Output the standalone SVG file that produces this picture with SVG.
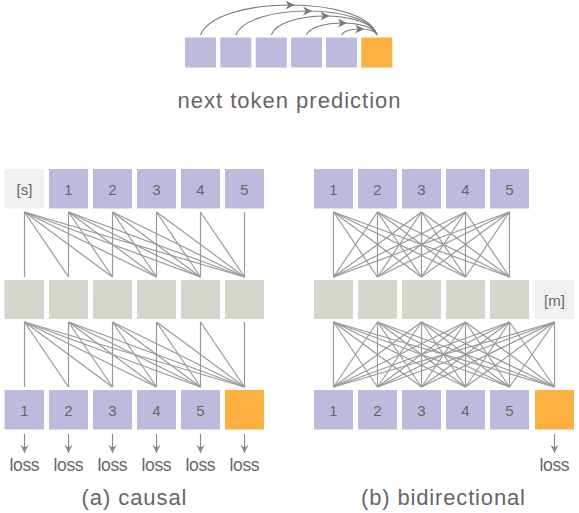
<svg xmlns="http://www.w3.org/2000/svg" width="579" height="513" viewBox="0 0 579 513">
<style>
.p{fill:#bdbbdd}
.o{fill:#fbb040}
.g{fill:#d6d6cc}
.w{fill:#f0f1ef}
.t{font-family:"Liberation Sans",Arial,sans-serif;fill:#666;text-anchor:middle}
.n{font-size:15px}
.c line{stroke:#999;stroke-width:1.2}
.arc{fill:none;stroke:#777;stroke-width:1.1;marker-mid:url(#ah)}
.la{stroke:#888;stroke-width:1.1;marker-end:url(#lh)}
</style>
<defs>
<marker id="ah" viewBox="0 0 10 10" refX="5" refY="5" markerWidth="9" markerHeight="9" markerUnits="userSpaceOnUse" orient="auto"><path d="M0,0 L10,5 L0,10 L3,5 Z" fill="#777"/></marker>
<marker id="lh" viewBox="0 0 10 10" refX="10" refY="5" markerWidth="9" markerHeight="8" markerUnits="userSpaceOnUse" orient="auto"><path d="M0,0 L10,5 L0,10 L3,5 Z" fill="#888"/></marker>
</defs>
<rect width="579" height="513" fill="#fff"/>

<g id="ntp">
<g id="ntp-arcs">
<path class="arc" d="M200.5,35 C208.45,15 249.48,5 290.06,5 C330.65,5 370.8,15 377,35"/>
<path class="arc" d="M235.8,35 C242.15,19 274.98,11 307.45,11 C339.93,11 372.05,19 377,35"/>
<path class="arc" d="M271.2,35 C275.95,22.33 300.55,16 324.89,16 C349.23,16 373.3,22.33 377,35"/>
<path class="arc" d="M306.5,35 C309.65,27 326.05,23 342.28,23 C358.5,23 374.55,27 377,35"/>
<path class="arc" d="M341.8,35 C343.4,31 351.58,29 359.66,29 C367.75,29 375.75,31 377,35"/>
</g>
<rect class="p" x="185" y="37.5" width="31" height="30"/>
<rect class="p" x="220.3" y="37.5" width="31" height="30"/>
<rect class="p" x="255.7" y="37.5" width="31" height="30"/>
<rect class="p" x="291" y="37.5" width="31" height="30"/>
<rect class="p" x="326" y="37.5" width="31" height="30"/>
<rect class="o" x="361.3" y="37.5" width="31" height="30"/>
<text class="t" x="289" y="108" font-size="22" textLength="223" lengthAdjust="spacing">next token prediction</text>
</g>

<g id="causal-connectors" class="c">
<line x1="24.5" y1="212" x2="24.5" y2="277"/><line x1="24.5" y1="212" x2="68.5" y2="277"/><line x1="24.5" y1="212" x2="112.5" y2="277"/><line x1="24.5" y1="212" x2="156.5" y2="277"/><line x1="24.5" y1="212" x2="200.5" y2="277"/><line x1="24.5" y1="212" x2="244.5" y2="277"/>
<line x1="68.5" y1="212" x2="68.5" y2="277"/><line x1="68.5" y1="212" x2="112.5" y2="277"/><line x1="68.5" y1="212" x2="156.5" y2="277"/><line x1="68.5" y1="212" x2="200.5" y2="277"/><line x1="68.5" y1="212" x2="244.5" y2="277"/>
<line x1="112.5" y1="212" x2="112.5" y2="277"/><line x1="112.5" y1="212" x2="156.5" y2="277"/><line x1="112.5" y1="212" x2="200.5" y2="277"/><line x1="112.5" y1="212" x2="244.5" y2="277"/>
<line x1="156.5" y1="212" x2="156.5" y2="277"/><line x1="156.5" y1="212" x2="200.5" y2="277"/><line x1="156.5" y1="212" x2="244.5" y2="277"/>
<line x1="200.5" y1="212" x2="200.5" y2="277"/><line x1="200.5" y1="212" x2="244.5" y2="277"/>
<line x1="244.5" y1="212" x2="244.5" y2="277"/>
<line x1="24.5" y1="322" x2="24.5" y2="387"/><line x1="24.5" y1="322" x2="68.5" y2="387"/><line x1="24.5" y1="322" x2="112.5" y2="387"/><line x1="24.5" y1="322" x2="156.5" y2="387"/><line x1="24.5" y1="322" x2="200.5" y2="387"/><line x1="24.5" y1="322" x2="244.5" y2="387"/>
<line x1="68.5" y1="322" x2="68.5" y2="387"/><line x1="68.5" y1="322" x2="112.5" y2="387"/><line x1="68.5" y1="322" x2="156.5" y2="387"/><line x1="68.5" y1="322" x2="200.5" y2="387"/><line x1="68.5" y1="322" x2="244.5" y2="387"/>
<line x1="112.5" y1="322" x2="112.5" y2="387"/><line x1="112.5" y1="322" x2="156.5" y2="387"/><line x1="112.5" y1="322" x2="200.5" y2="387"/><line x1="112.5" y1="322" x2="244.5" y2="387"/>
<line x1="156.5" y1="322" x2="156.5" y2="387"/><line x1="156.5" y1="322" x2="200.5" y2="387"/><line x1="156.5" y1="322" x2="244.5" y2="387"/>
<line x1="200.5" y1="322" x2="200.5" y2="387"/><line x1="200.5" y1="322" x2="244.5" y2="387"/>
<line x1="244.5" y1="322" x2="244.5" y2="387"/>
</g>

<g id="bidir-connectors" class="c">
<line x1="333.5" y1="212" x2="333.5" y2="277"/><line x1="333.5" y1="212" x2="377.5" y2="277"/><line x1="333.5" y1="212" x2="421.5" y2="277"/><line x1="333.5" y1="212" x2="465.5" y2="277"/><line x1="333.5" y1="212" x2="509.5" y2="277"/>
<line x1="377.5" y1="212" x2="333.5" y2="277"/><line x1="377.5" y1="212" x2="377.5" y2="277"/><line x1="377.5" y1="212" x2="421.5" y2="277"/><line x1="377.5" y1="212" x2="465.5" y2="277"/><line x1="377.5" y1="212" x2="509.5" y2="277"/>
<line x1="421.5" y1="212" x2="333.5" y2="277"/><line x1="421.5" y1="212" x2="377.5" y2="277"/><line x1="421.5" y1="212" x2="421.5" y2="277"/><line x1="421.5" y1="212" x2="465.5" y2="277"/><line x1="421.5" y1="212" x2="509.5" y2="277"/>
<line x1="465.5" y1="212" x2="333.5" y2="277"/><line x1="465.5" y1="212" x2="377.5" y2="277"/><line x1="465.5" y1="212" x2="421.5" y2="277"/><line x1="465.5" y1="212" x2="465.5" y2="277"/><line x1="465.5" y1="212" x2="509.5" y2="277"/>
<line x1="509.5" y1="212" x2="333.5" y2="277"/><line x1="509.5" y1="212" x2="377.5" y2="277"/><line x1="509.5" y1="212" x2="421.5" y2="277"/><line x1="509.5" y1="212" x2="465.5" y2="277"/><line x1="509.5" y1="212" x2="509.5" y2="277"/>
<line x1="333.5" y1="322" x2="333.5" y2="387"/><line x1="333.5" y1="322" x2="377.5" y2="387"/><line x1="333.5" y1="322" x2="421.5" y2="387"/><line x1="333.5" y1="322" x2="465.5" y2="387"/><line x1="333.5" y1="322" x2="509.5" y2="387"/><line x1="333.5" y1="322" x2="554.5" y2="387"/>
<line x1="377.5" y1="322" x2="333.5" y2="387"/><line x1="377.5" y1="322" x2="377.5" y2="387"/><line x1="377.5" y1="322" x2="421.5" y2="387"/><line x1="377.5" y1="322" x2="465.5" y2="387"/><line x1="377.5" y1="322" x2="509.5" y2="387"/><line x1="377.5" y1="322" x2="554.5" y2="387"/>
<line x1="421.5" y1="322" x2="333.5" y2="387"/><line x1="421.5" y1="322" x2="377.5" y2="387"/><line x1="421.5" y1="322" x2="421.5" y2="387"/><line x1="421.5" y1="322" x2="465.5" y2="387"/><line x1="421.5" y1="322" x2="509.5" y2="387"/><line x1="421.5" y1="322" x2="554.5" y2="387"/>
<line x1="465.5" y1="322" x2="333.5" y2="387"/><line x1="465.5" y1="322" x2="377.5" y2="387"/><line x1="465.5" y1="322" x2="421.5" y2="387"/><line x1="465.5" y1="322" x2="465.5" y2="387"/><line x1="465.5" y1="322" x2="509.5" y2="387"/><line x1="465.5" y1="322" x2="554.5" y2="387"/>
<line x1="509.5" y1="322" x2="333.5" y2="387"/><line x1="509.5" y1="322" x2="377.5" y2="387"/><line x1="509.5" y1="322" x2="421.5" y2="387"/><line x1="509.5" y1="322" x2="465.5" y2="387"/><line x1="509.5" y1="322" x2="509.5" y2="387"/><line x1="509.5" y1="322" x2="554.5" y2="387"/>
<line x1="554.5" y1="322" x2="333.5" y2="387"/><line x1="554.5" y1="322" x2="377.5" y2="387"/><line x1="554.5" y1="322" x2="421.5" y2="387"/><line x1="554.5" y1="322" x2="465.5" y2="387"/><line x1="554.5" y1="322" x2="509.5" y2="387"/><line x1="554.5" y1="322" x2="554.5" y2="387"/>
</g>

<g id="causal">
<g id="c-top-s"><rect class="w" x="4.5" y="169" width="39.5" height="39.5"/><text class="t n" x="24.5" y="194.5">[s]</text></g>
<g id="c-top-1"><rect class="p" x="49" y="169" width="39" height="39.5"/><text class="t n" x="68.5" y="194.5">1</text></g>
<g id="c-top-2"><rect class="p" x="93" y="169" width="39" height="39.5"/><text class="t n" x="112.5" y="194.5">2</text></g>
<g id="c-top-3"><rect class="p" x="137" y="169" width="39" height="39.5"/><text class="t n" x="156.5" y="194.5">3</text></g>
<g id="c-top-4"><rect class="p" x="181" y="169" width="39" height="39.5"/><text class="t n" x="200.5" y="194.5">4</text></g>
<g id="c-top-5"><rect class="p" x="225" y="169" width="39" height="39.5"/><text class="t n" x="244.5" y="194.5">5</text></g>
<g id="c-mid-0"><rect class="g" x="4.5" y="280" width="39.5" height="39"/></g>
<g id="c-mid-1"><rect class="g" x="49" y="280" width="39" height="39"/></g>
<g id="c-mid-2"><rect class="g" x="93" y="280" width="39" height="39"/></g>
<g id="c-mid-3"><rect class="g" x="137" y="280" width="39" height="39"/></g>
<g id="c-mid-4"><rect class="g" x="181" y="280" width="39" height="39"/></g>
<g id="c-mid-5"><rect class="g" x="225" y="280" width="39" height="39"/></g>
<g id="c-bot-1"><rect class="p" x="4.5" y="390" width="39.5" height="39.5"/><text class="t n" x="24.5" y="415.5">1</text><line class="la" x1="24.5" y1="434" x2="24.5" y2="453"/><text class="t" x="24.5" y="471" font-size="17.5" textLength="30" lengthAdjust="spacing">loss</text></g>
<g id="c-bot-2"><rect class="p" x="49" y="390" width="39" height="39.5"/><text class="t n" x="68.5" y="415.5">2</text><line class="la" x1="68.5" y1="434" x2="68.5" y2="453"/><text class="t" x="68.5" y="471" font-size="17.5" textLength="30" lengthAdjust="spacing">loss</text></g>
<g id="c-bot-3"><rect class="p" x="93" y="390" width="39" height="39.5"/><text class="t n" x="112.5" y="415.5">3</text><line class="la" x1="112.5" y1="434" x2="112.5" y2="453"/><text class="t" x="112.5" y="471" font-size="17.5" textLength="30" lengthAdjust="spacing">loss</text></g>
<g id="c-bot-4"><rect class="p" x="137" y="390" width="39" height="39.5"/><text class="t n" x="156.5" y="415.5">4</text><line class="la" x1="156.5" y1="434" x2="156.5" y2="453"/><text class="t" x="156.5" y="471" font-size="17.5" textLength="30" lengthAdjust="spacing">loss</text></g>
<g id="c-bot-5"><rect class="p" x="181" y="390" width="39" height="39.5"/><text class="t n" x="200.5" y="415.5">5</text><line class="la" x1="200.5" y1="434" x2="200.5" y2="453"/><text class="t" x="200.5" y="471" font-size="17.5" textLength="30" lengthAdjust="spacing">loss</text></g>
<g id="c-bot-6"><rect class="o" x="225" y="390" width="39" height="39.5"/><line class="la" x1="244.5" y1="434" x2="244.5" y2="453"/><text class="t" x="244.5" y="471" font-size="17.5" textLength="30" lengthAdjust="spacing">loss</text></g>
<text class="t" x="134" y="504.5" font-size="22" textLength="105" lengthAdjust="spacing">(a) causal</text>
</g>

<g id="bidirectional">
<g id="b-top-1"><rect class="p" x="314" y="169" width="39" height="39.5"/><text class="t n" x="333.5" y="194.5">1</text></g>
<g id="b-top-2"><rect class="p" x="358" y="169" width="39" height="39.5"/><text class="t n" x="377.5" y="194.5">2</text></g>
<g id="b-top-3"><rect class="p" x="402" y="169" width="39" height="39.5"/><text class="t n" x="421.5" y="194.5">3</text></g>
<g id="b-top-4"><rect class="p" x="446" y="169" width="39" height="39.5"/><text class="t n" x="465.5" y="194.5">4</text></g>
<g id="b-top-5"><rect class="p" x="490" y="169" width="39" height="39.5"/><text class="t n" x="509.5" y="194.5">5</text></g>
<g id="b-mid-1"><rect class="g" x="314" y="280" width="39" height="39"/></g>
<g id="b-mid-2"><rect class="g" x="358" y="280" width="39" height="39"/></g>
<g id="b-mid-3"><rect class="g" x="402" y="280" width="39" height="39"/></g>
<g id="b-mid-4"><rect class="g" x="446" y="280" width="39" height="39"/></g>
<g id="b-mid-5"><rect class="g" x="490" y="280" width="39" height="39"/></g>
<g id="b-mid-m"><rect class="w" x="535" y="280" width="39" height="39"/><text class="t n" x="554.5" y="305.5">[m]</text></g>
<g id="b-bot-1"><rect class="p" x="314" y="390" width="39" height="39.5"/><text class="t n" x="333.5" y="415.5">1</text></g>
<g id="b-bot-2"><rect class="p" x="358" y="390" width="39" height="39.5"/><text class="t n" x="377.5" y="415.5">2</text></g>
<g id="b-bot-3"><rect class="p" x="402" y="390" width="39" height="39.5"/><text class="t n" x="421.5" y="415.5">3</text></g>
<g id="b-bot-4"><rect class="p" x="446" y="390" width="39" height="39.5"/><text class="t n" x="465.5" y="415.5">4</text></g>
<g id="b-bot-5"><rect class="p" x="490" y="390" width="39" height="39.5"/><text class="t n" x="509.5" y="415.5">5</text></g>
<g id="b-bot-6"><rect class="o" x="535" y="390" width="39" height="39.5"/><line class="la" x1="554.5" y1="434" x2="554.5" y2="453"/><text class="t" x="554.5" y="471" font-size="17.5" textLength="30" lengthAdjust="spacing">loss</text></g>
<text class="t" x="443" y="504.5" font-size="22" textLength="164" lengthAdjust="spacing">(b) bidirectional</text>
</g>
</svg>
